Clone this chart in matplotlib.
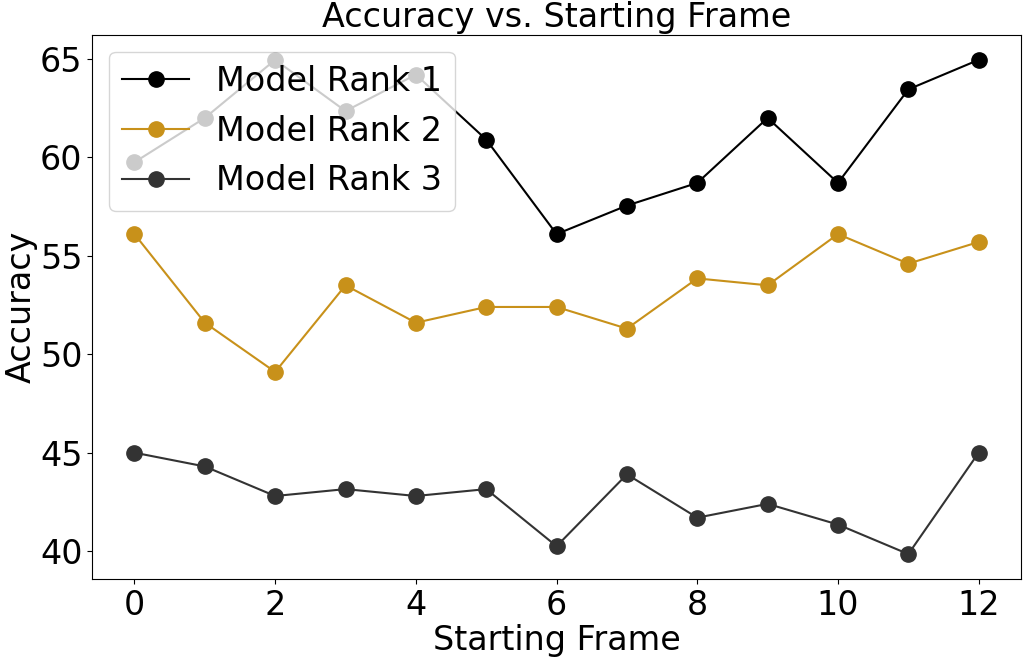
import numpy as np
import matplotlib
matplotlib.use("Agg")
import matplotlib.pyplot as plt

frames = list(range(13))
rank1 = [59.75, 62.0, 64.95, 62.35, 64.2, 60.9, 56.1, 57.55, 58.7, 62.0, 58.7, 63.45, 64.95]
rank2 = [56.1, 51.6, 49.1, 53.5, 51.6, 52.4, 52.4, 51.3, 53.85, 53.5, 56.1, 54.6, 55.7]
rank3 = [45.0, 44.3, 42.8, 43.15, 42.8, 43.15, 40.25, 43.9, 41.7, 42.4, 41.35, 39.85, 45.0]

plt.rcParams['font.size'] = 24

fig = plt.figure(figsize=(10.25, 6.63), dpi=100)
ax = fig.add_axes([0.09, 0.127, 0.906, 0.82])

ax.plot(frames, rank1, 'o-', color='black', linewidth=1.5, markersize=11, label='Model Rank 1')
ax.plot(frames, rank2, 'o-', color='#c8911a', linewidth=1.5, markersize=11, label='Model Rank 2')
ax.plot(frames, rank3, 'o-', color='#333333', linewidth=1.5, markersize=11, label='Model Rank 3')

ax.set_xticks([0, 2, 4, 6, 8, 10, 12])
ax.set_yticks([40, 45, 50, 55, 60, 65])
ax.set_title('Accuracy vs. Starting Frame', fontsize=24)
ax.set_xlabel('Starting Frame', fontsize=24, labelpad=2)
ax.set_ylabel('Accuracy', fontsize=24, labelpad=2)
ax.legend(loc='upper left', fontsize=24)

fig.savefig('out.png', dpi=100)
